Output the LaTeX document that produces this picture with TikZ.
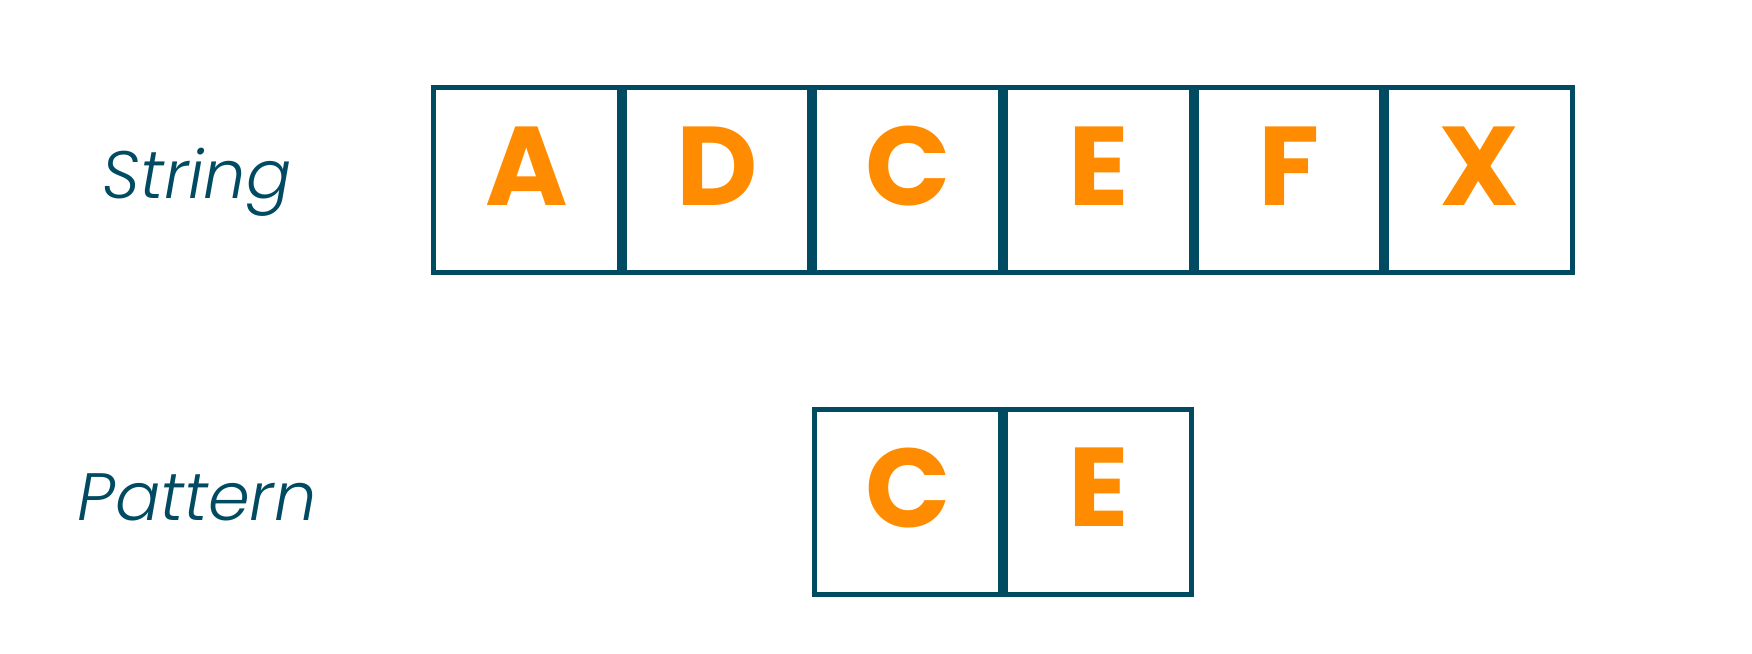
\documentclass[tikz,border=0pt]{standalone}
\usepackage{fontspec}
\newfontfamily\cellfont{Poppins}[UprightFont={* Bold}]
\newfontfamily\handfont{Poppins}[UprightFont={* Light Italic}]
\definecolor{boxteal}{RGB}{0,75,98}
\definecolor{letterorange}{RGB}{255,140,0}
\tikzset{
  cell/.style={draw=boxteal,line width=5pt,minimum width=185.7pt,minimum height=185pt,
               inner sep=0pt,outer sep=0pt,text depth=28pt,text=letterorange,
               font=\cellfont\fontsize{112}{112}\selectfont},
  rowlabel/.style={anchor=base,text=boxteal,font=\handfont\fontsize{67}{67}\selectfont}
}
\begin{document}
\begin{tikzpicture}[x=1pt,y=-1pt]
  \useasboundingbox (0,0) rectangle (1752,653);
  % the string
  \node[cell] (sA) at (526.3,180) {A};
  \node[cell] (sD) at (717.0,180) {D};
  \node[cell] (sC) at (907.7,180) {C};
  \node[cell] (sE) at (1098.3,180) {E};
  \node[cell] (sF) at (1289.0,180) {F};
  \node[cell] (sX) at (1479.7,180) {X};
  % the pattern, under C and E
  \node[cell] (pC) at (907.7,501.5) {C};
  \node[cell] (pE) at (1098.3,501.5) {E};
  % labels
  \node[rowlabel] (lstring) at (197,198) {String};
  \node[rowlabel] (lpattern) at (197,520) {Pattern};
\end{tikzpicture}
\end{document}
